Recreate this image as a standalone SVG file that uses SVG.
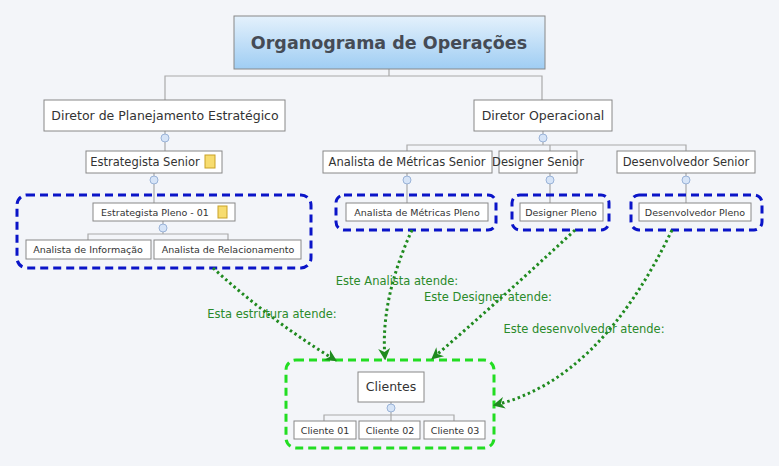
<svg xmlns="http://www.w3.org/2000/svg" width="779" height="466" viewBox="0 0 779 466">
<defs>
<linearGradient id="tg" x1="0" y1="0" x2="0" y2="1"><stop offset="0" stop-color="#e4f1fc"/><stop offset="1" stop-color="#9fcdf3"/></linearGradient>
<marker id="ah" markerWidth="12" markerHeight="12" refX="8" refY="5" orient="auto" markerUnits="userSpaceOnUse" viewBox="0 0 10 10"><path d="M0,0 L10,5 L0,10 L3,5 Z" fill="#1f8a1f"/></marker>
</defs>
<style>
text{font-family:"DejaVu Sans","Noto Sans",sans-serif;fill:#333;text-anchor:middle}
.b{fill:#fff;stroke:#888;stroke-width:1}
.t1{font-size:12.5px}
.t2{font-size:11.5px}
.t3{font-size:9.5px}
.ln{fill:none;stroke:#aaa;stroke-width:1.2}
.cc{fill:#d6e4f7;stroke:#9ab3d8;stroke-width:1}
.bg{fill:none;stroke:#0a14c8;stroke-width:3;stroke-dasharray:8,5}
.gg{fill:none;stroke:#22dd22;stroke-width:3;stroke-dasharray:8,5}
.ar{fill:none;stroke:#1f8a1f;stroke-width:3;stroke-dasharray:2.5,3;marker-end:url(#ah)}
.lb{font-size:11.5px;fill:#2a8a2a}
.note{fill:#f7dc6f;stroke:#c9a227;stroke-width:1}
</style>
<rect width="779" height="466" fill="#f3f5f9"/>
<g id="lines">
<path class="ln" d="M389,69 V76 M165,100 V76 H542 V100"/>
<path class="ln" d="M165,131 V151 M154,173 V203 M163,221 V234 M88,240 V234 H228 V240"/>
<path class="ln" d="M543,131 V145 M407,151 V145 H686 V151 M550,145 V151"/>
<path class="ln" d="M407,173 V203 M550,173 V203 M686,173 V203"/>
<path class="ln" d="M391,402 V415 M324,421 V415 H454 V421 M391,415 V421"/>
</g>
<g id="title"><rect x="234" y="16" width="311" height="53" fill="url(#tg)" stroke="#888"/><text x="389" y="49" style="font-size:17.5px;font-weight:bold;fill:#454b55">Organograma de Operações</text></g>
<g id="dir1"><rect class="b" x="44" y="100" width="241" height="31"/><text class="t1" x="165" y="120">Diretor de Planejamento Estratégico</text></g>
<g id="dir2"><rect class="b" x="474" y="100" width="138" height="31"/><text class="t1" x="543" y="120">Diretor Operacional</text></g>
<g id="es"><rect class="b" x="86" y="151" width="136" height="22"/><text class="t2" x="145" y="166">Estrategista Senior</text><rect class="note" x="205" y="155" width="10" height="13"/></g>
<g id="groups">
<rect class="bg" x="17" y="195" width="294" height="73" rx="10"/>
<rect class="bg" x="336" y="195" width="160" height="35" rx="8"/>
<rect class="bg" x="512" y="195" width="97" height="35" rx="8"/>
<rect class="bg" x="631" y="195" width="131" height="35" rx="8"/>
<rect class="gg" x="286" y="360" width="208" height="88" rx="10"/>
</g>
<g id="ep"><rect class="b" x="93" y="203" width="142" height="18"/><text class="t3" x="155" y="215.5">Estrategista Pleno - 01</text><rect class="note" x="218" y="206" width="9" height="12"/></g>
<g id="ai"><rect class="b" x="26" y="240" width="125" height="19"/><text class="t3" x="88" y="253">Analista de Informação</text></g>
<g id="ar"><rect class="b" x="154" y="240" width="147" height="19"/><text class="t3" x="228" y="253">Analista de Relacionamento</text></g>
<g id="ams"><rect class="b" x="323" y="151" width="169" height="22"/><text class="t2" x="407" y="166">Analista de Métricas Senior</text></g>
<g id="ds"><rect class="b" x="499" y="151" width="78" height="22"/><text class="t2" x="538" y="166">Designer Senior</text></g>
<g id="dvs"><rect class="b" x="617" y="151" width="138" height="22"/><text class="t2" x="686" y="166">Desenvolvedor Senior</text></g>
<g id="amp"><rect class="b" x="346" y="203" width="142" height="18"/><text class="t3" x="417" y="215.5">Analista de Métricas Pleno</text></g>
<g id="dp"><rect class="b" x="520" y="203" width="83" height="18"/><text class="t3" x="561" y="215.5">Designer Pleno</text></g>
<g id="dvp"><rect class="b" x="639" y="203" width="112" height="18"/><text class="t3" x="695" y="215.5">Desenvolvedor Pleno</text></g>
<g id="cl"><rect class="b" x="358" y="372" width="66" height="30"/><text class="t1" x="391" y="391">Clientes</text></g>
<g id="c1"><rect class="b" x="294" y="421" width="62" height="18"/><text class="t3" x="325" y="433.5">Cliente 01</text></g>
<g id="c2"><rect class="b" x="359" y="421" width="61" height="18"/><text class="t3" x="390" y="433.5">Cliente 02</text></g>
<g id="c3"><rect class="b" x="424" y="421" width="61" height="18"/><text class="t3" x="455" y="433.5">Cliente 03</text></g>
<g id="toggles">
<circle class="cc" cx="165" cy="138" r="4"/><circle class="cc" cx="154" cy="180" r="4"/><circle class="cc" cx="163" cy="228" r="4"/>
<circle class="cc" cx="543" cy="138" r="4"/><circle class="cc" cx="407" cy="180" r="4"/><circle class="cc" cx="550" cy="180" r="4"/><circle class="cc" cx="686" cy="180" r="4"/>
<circle class="cc" cx="391" cy="408" r="4"/>
</g>
<g id="connectors">
<path class="ar" d="M213,268 Q270,320 335,360"/>
<path class="ar" d="M412,230 Q380,300 385,358"/>
<path class="ar" d="M575,230 Q500,300 433,358"/>
<path class="ar" d="M672,230 Q600,380 495,405"/>
<text class="lb" x="272" y="318">Esta estrutura atende:</text>
<text class="lb" x="397" y="285">Este Analista atende:</text>
<text class="lb" x="488" y="301">Este Designer atende:</text>
<text class="lb" x="584" y="333">Este desenvolvedor atende:</text>
</g>
</svg>
